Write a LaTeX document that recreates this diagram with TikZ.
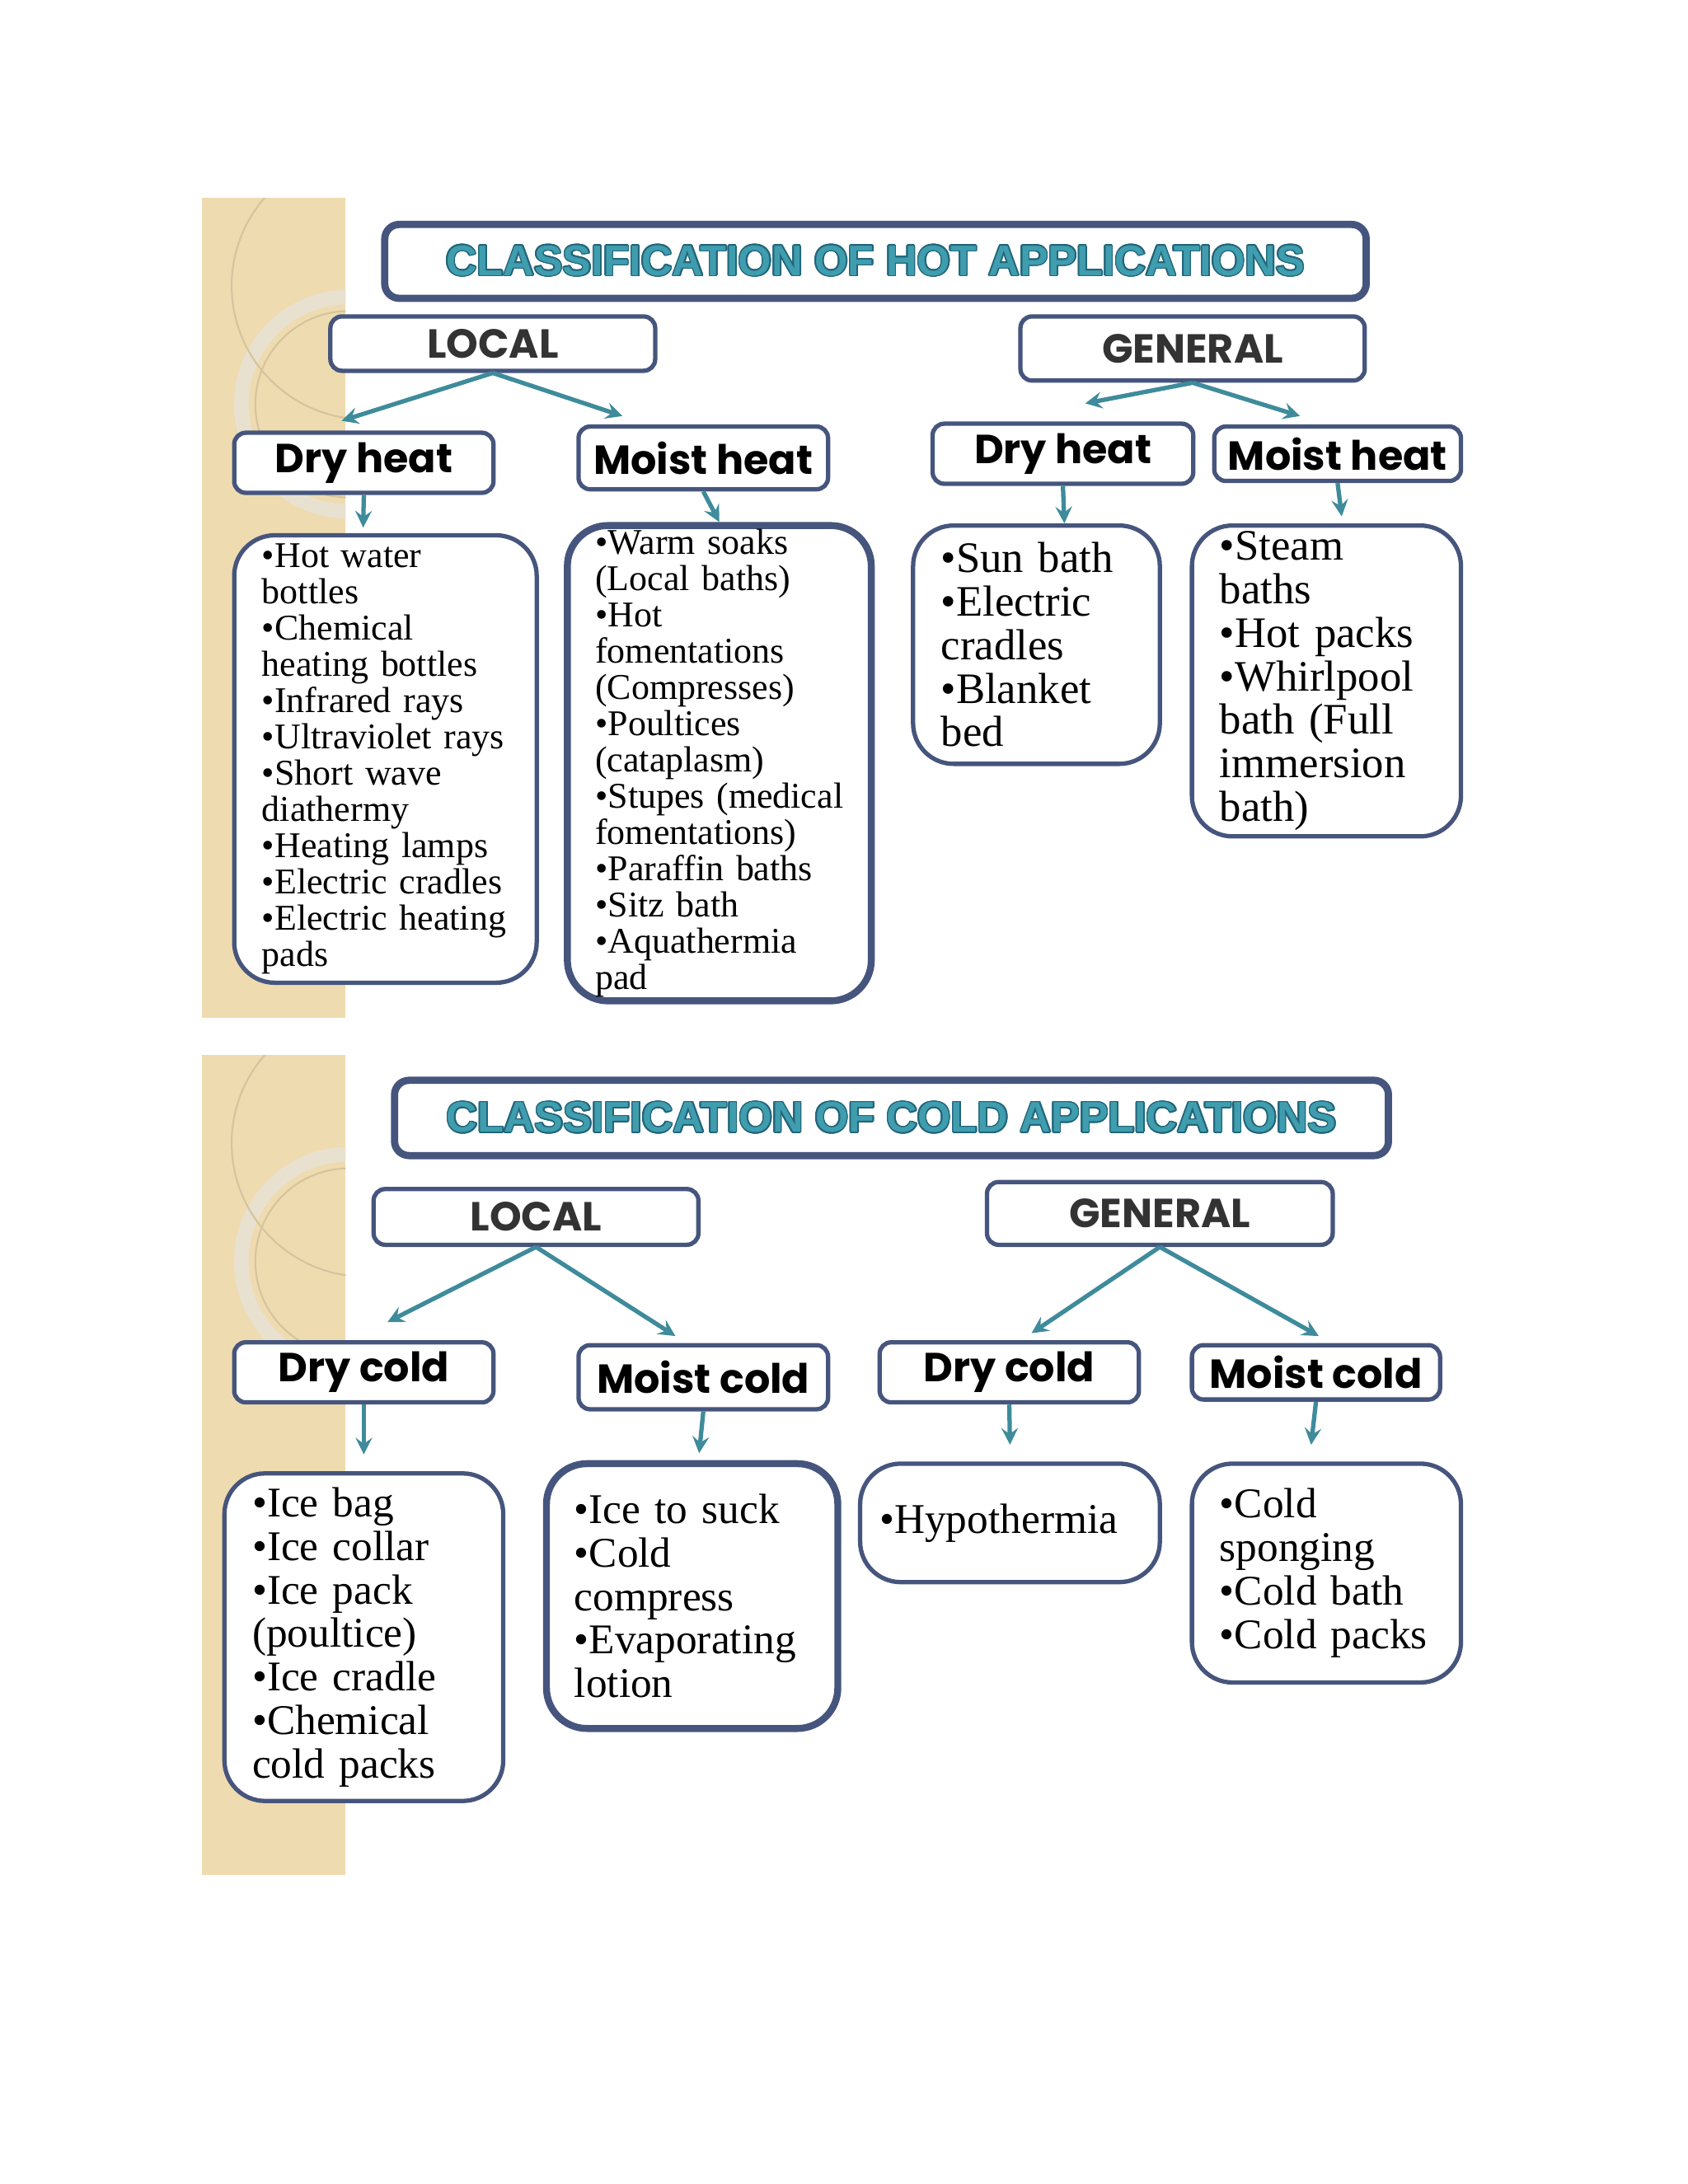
\documentclass[tikz,border=0pt]{standalone}
\usepackage{fontspec}
\setmainfont{Liberation Serif}
\newfontfamily\headfont{Poppins}
\newfontfamily\titlefont{Liberation Sans}
\usepackage{xcolor}
\usepackage{contour}
\usetikzlibrary{shapes.geometric, arrows, calc}
\contourlength{0.45pt}
\def\pxu{0.016914cm}
\definecolor{boxblue}{HTML}{46557D}
\definecolor{arrowteal}{HTML}{3E8B9B}
\definecolor{titleteal}{HTML}{3F9DAE}
\definecolor{titledark}{HTML}{22657A}
\definecolor{stripbeige}{HTML}{EFDBB0}
\definecolor{ringbeige}{HTML}{E9E1D0}
\definecolor{arcbeige}{HTML}{D5C49E}
\tikzstyle{titlebox} = [rectangle, rounded corners=5pt, draw=boxblue, line width=2.5pt, fill=white, text=titleteal, font=\titlefont\bfseries\fontsize{14.8}{16}\selectfont]
\tikzstyle{groupbox} = [rectangle, rounded corners=4pt, draw=boxblue, line width=1.5pt, fill=white, text=black!80, font=\headfont\bfseries\fontsize{14}{16}\selectfont]
\tikzstyle{kindbox} = [rectangle, rounded corners=4pt, draw=boxblue, line width=1.5pt, fill=white, font=\headfont\bfseries\fontsize{14}{16}\selectfont]
\tikzstyle{listbox} = [rectangle, rounded corners=14pt, draw=boxblue, line width=1.5pt, fill=white, align=left, inner xsep=20*\pxu, inner ysep=0pt, execute at begin node={\hyphenpenalty=10000\exhyphenpenalty=10000}]
\tikzstyle{smalllist} = [listbox, font=\fontsize{12.5}{12.5}\selectfont]
\tikzstyle{biglist} = [listbox, font=\fontsize{15}{15}\selectfont]
\tikzstyle{coldlist} = [listbox, font=\fontsize{14.6}{15}\selectfont]
\tikzstyle{arrow} = [line width=1.5pt, draw=arrowteal, ->, >=stealth]

\begin{document}
\begin{tikzpicture}[x=\pxu, y=-\pxu]
\useasboundingbox (0,0) rectangle (1210.7,1566.8);

% Side strips
\foreach \dy in {0,615} {
  \fill[stripbeige] (145,142+\dy) rectangle (248,730+\dy);
  \begin{scope}
    \clip (145,142+\dy) rectangle (248,730+\dy);
    \draw[ringbeige, line width=5pt] (250,290+\dy) circle[radius=1.3cm];
    \draw[arcbeige, line width=0.6pt] (262,205+\dy) circle[radius=1.62cm];
    \draw[arcbeige, line width=0.6pt] (250,290+\dy) circle[radius=1.13cm];
  \end{scope}
}

% Hot applications
\node (hotTitle) [titlebox, minimum width=704*\pxu, minimum height=53*\pxu] at (628,187.5) {\contour{titledark}{CLASSIFICATION OF HOT APPLICATIONS}};
\node (localH) [groupbox, minimum width=233*\pxu, minimum height=39*\pxu] at (353.5,246.5) {LOCAL};
\node (generalH) [groupbox, minimum width=247*\pxu, minimum height=46*\pxu] at (855.5,250) {GENERAL};
\node (dryHL) [kindbox, minimum width=186*\pxu, minimum height=40*\pxu] at (261,332) {Dry heat};
\node (moistHL) [kindbox, minimum width=179*\pxu, minimum height=45*\pxu] at (504.5,328.5) {Moist heat};
\node (dryHG) [kindbox, minimum width=187*\pxu, minimum height=39*\pxu] at (762.5,325.5) {Dry heat};
\node (moistHG) [kindbox, minimum width=177*\pxu, minimum height=39*\pxu] at (959.5,325.5) {Moist heat};

\node (listDHL) [smalllist, text width=177*\pxu, minimum height=321*\pxu] at (276.5,544.5) {•Hot water\\bottles\\•Chemical\\\mbox{heating bottles}\\\mbox{•Infrared rays}\\\mbox{•Ultraviolet rays}\\•Short wave\\diathermy\\\mbox{•Heating lamps}\\\mbox{•Electric cradles}\\\mbox{•Electric heating}\\pads};
\node (listMHL) [smalllist, line width=2.4pt, text width=178*\pxu, minimum height=341*\pxu] at (516,547.5) {•Warm soaks\\(Local baths)\\•Hot\\fomentations\\(Compresses)\\•Poultices\\(cataplasm)\\\mbox{•Stupes (medical}\\fomentations)\\\mbox{•Paraffin baths}\\•Sitz bath\\•Aquathermia\\pad};
\node (listDHG) [biglist, text width=137*\pxu, minimum height=171*\pxu] at (743.5,462.5) {\mbox{•Sun bath}\\•Electric\\cradles\\•Blanket\\bed};
\node (listMHG) [biglist, text width=153*\pxu, minimum height=223*\pxu] at (951.5,488.5) {•Steam\\baths\\\mbox{•Hot packs}\\•Whirlpool\\\mbox{bath (Full}\\immersion\\bath)};

\draw [arrow] (localH.south) -- ($(dryHL.north)+(-16,-7)$);
\draw [arrow] (localH.south) -- ($(moistHL.north)+(-58,-6)$);
\draw [arrow] (generalH.south) -- ($(dryHG.north)+(16,-13)$);
\draw [arrow] (generalH.south) -- ($(moistHG.north)+(-27,-6)$);
\draw [arrow] (dryHL.south) -- ($(listDHL.north)+(-16,-4)$);
\draw [arrow] (moistHL.south) -- (listMHL.north);
\draw [arrow] (dryHG.south) -- ($(listDHG.north)+(20,0)$);
\draw [arrow] (moistHG.south) -- ($(listMHG.north)+(11,-5)$);

% Cold applications
\node (coldTitle) [titlebox, minimum width=713*\pxu, minimum height=54*\pxu] at (639.5,802) {\contour{titledark}{CLASSIFICATION OF COLD APPLICATIONS}};
\node (localC) [groupbox, minimum width=233*\pxu, minimum height=40*\pxu] at (384.5,873) {LOCAL};
\node (generalC) [groupbox, minimum width=248*\pxu, minimum height=45*\pxu] at (832,870.5) {GENERAL};
\node (dryCL) [kindbox, minimum width=186*\pxu, minimum height=39*\pxu] at (261,984.5) {Dry cold};
\node (moistCL) [kindbox, minimum width=179*\pxu, minimum height=46*\pxu] at (504.5,988) {Moist cold};
\node (dryCG) [kindbox, minimum width=186*\pxu, minimum height=39*\pxu] at (724,984.5) {Dry cold};
\node (moistCG) [kindbox, minimum width=178*\pxu, minimum height=39*\pxu] at (944,984.5) {Moist cold};

\node (listDCL) [coldlist, text width=160*\pxu, minimum height=235*\pxu] at (261,1174.5) {\mbox{•Ice bag}\\\mbox{•Ice collar}\\\mbox{•Ice pack}\\(poultice)\\\mbox{•Ice cradle}\\•Chemical\\\mbox{cold packs}};
\node (listMCL) [coldlist, line width=2.4pt, text width=169*\pxu, minimum height=190*\pxu] at (496.5,1145) {\mbox{•Ice to suck}\\•Cold\\compress\\•Evaporating\\lotion};
\node (listDCG) [coldlist, inner xsep=14*\pxu, text width=187*\pxu, minimum height=85*\pxu] at (724.5,1092.5) {•Hypothermia};
\node (listMCG) [coldlist, text width=153*\pxu, minimum height=157*\pxu] at (951.5,1128.5) {•Cold\\sponging\\\mbox{•Cold bath}\\\mbox{•Cold packs}};

\draw [arrow] (localC.south) -- ($(dryCL.north)+(17,-13)$);
\draw [arrow] (localC.south) -- ($(moistCL.north)+(-20,-5)$);
\draw [arrow] (generalC.south) -- ($(dryCG.north)+(16,-5)$);
\draw [arrow] (generalC.south) -- ($(moistCG.north)+(2,-5)$);
\draw [arrow] (dryCL.south) -- ($(listDCL.north)+(0,-12)$);
\draw [arrow] (moistCL.south) -- ($(listMCL.north)+(5,-5)$);
\draw [arrow] (dryCG.south) -- ($(listDCG.north)+(0,-12)$);
\draw [arrow] (moistCG.south) -- ($(listMCG.north)+(-11,-12)$);

\end{tikzpicture}
\end{document}
